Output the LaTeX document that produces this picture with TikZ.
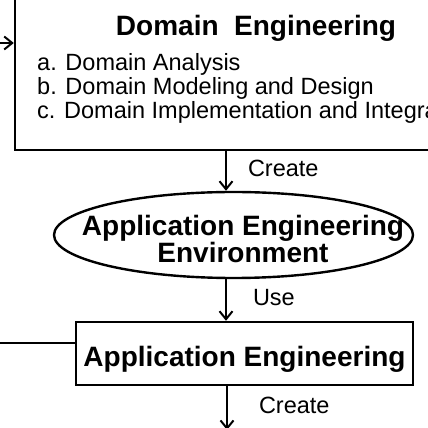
\documentclass[tikz,border=0pt]{standalone}
\usepackage{fontspec}
\setmainfont{Liberation Sans}
\usetikzlibrary{arrows.meta,shapes.geometric}
\tikzset{
  box/.style={draw,line width=2.4pt,inner sep=0pt},
  arr/.style={line width=2pt,-{Straight Barb[length=8pt,width=13pt,line width=2pt]}},
  lbl/.style={anchor=base west,inner sep=0pt,font=\fontsize{23.5}{24}\selectfont},
  ttl/.style={anchor=base,inner sep=0pt,font=\fontsize{28}{22}\selectfont\bfseries}
}
\begin{document}
\begin{tikzpicture}[x=1pt,y=1pt]
  \useasboundingbox (0,0) rectangle (428,428);
  \clip (0,0) rectangle (428,428);
  \node[box,minimum width=445pt,minimum height=167pt] (domain) at (237.5,361.5) {};
  \node[ttl] (domtitle) at (256,392) {Domain\ \ Engineering};
  \node[lbl] (stepa) at (37,357) {a. Domain Analysis};
  \node[lbl] (stepb) at (37,333) {b. Domain Modeling and Design};
  \node[lbl] (stepc) at (37,309) {c. Domain Implementation and Integration};
  \node[draw,ellipse,line width=2.4pt,inner sep=0pt,minimum width=359pt,minimum height=86pt] (env) at (233.5,193) {};
  \node[ttl,anchor=center,align=center] (envtext) at (243,189.25) {Application Engineering\\Environment};
  \node[box,minimum width=337pt,minimum height=63pt] (app) at (244.5,74.5) {};
  \node[ttl] (apptext) at (244.5,61) {Application Engineering};
  \coordinate (feed) at (0,385);
  \coordinate (link) at (0,85);
  \coordinate (out) at (227,-2);
  \coordinate (spine) at (226,0);
  \draw[arr] (feed) -- (feed -| domain.west);
  \draw[line width=2pt] (link) -- (link -| app.west);
  \draw[arr] (domain.south -| spine) -- (env.north -| spine) node[lbl,pos=0.5,xshift=21pt,yshift=-6pt] (create1) {Create};
  \draw[arr] (env.south -| spine) -- (app.north -| spine) node[lbl,pos=0.5,xshift=26pt,yshift=-6pt] (use) {Use};
  \draw[arr] (app.south -| out) -- (out) node[lbl,pos=0.5,xshift=31pt,yshift=-5pt] (create2) {Create};
\end{tikzpicture}
\end{document}
